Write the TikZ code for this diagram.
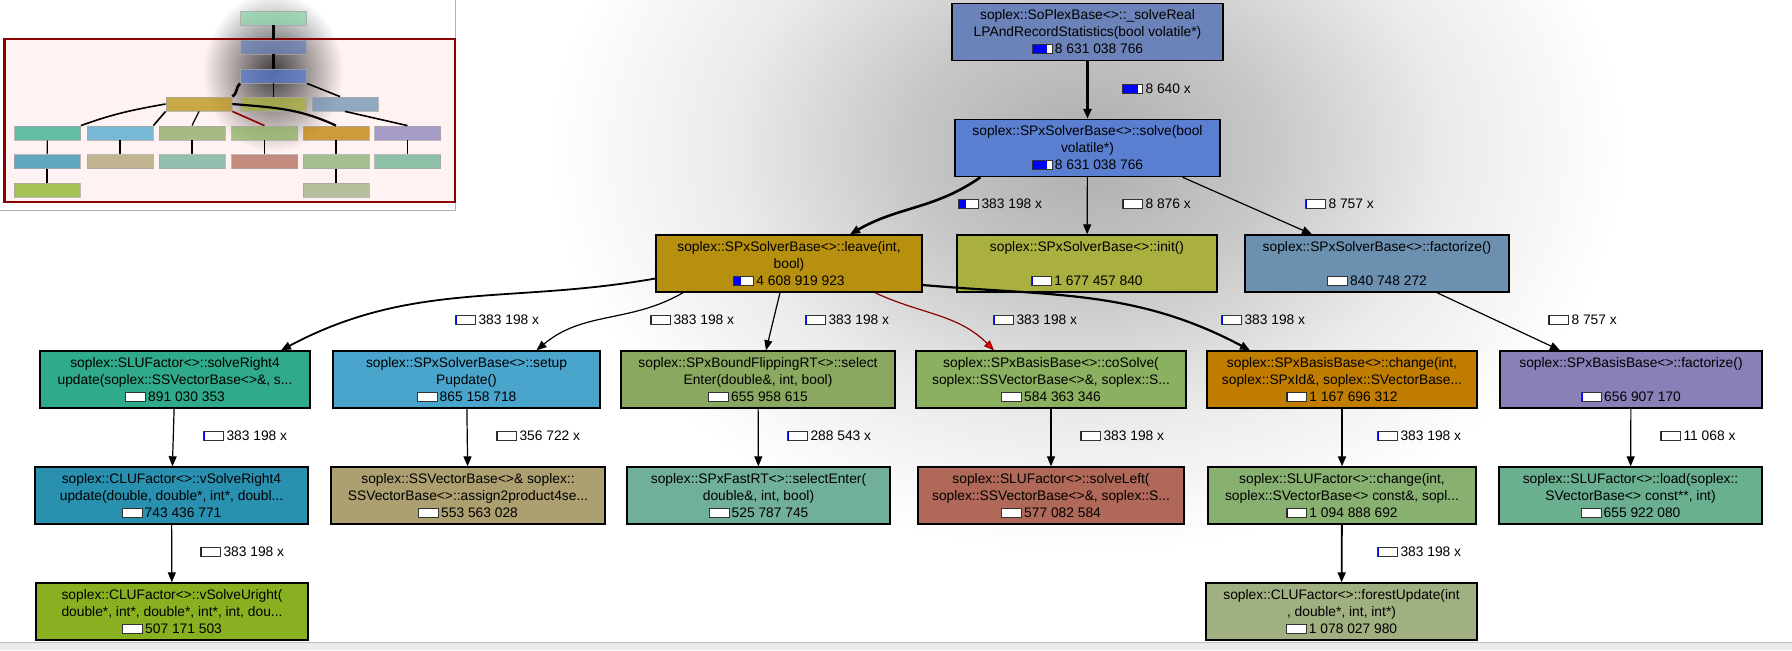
\documentclass[tikz,border=0pt]{standalone}
\usepackage{fontspec}
\setmainfont{Liberation Sans}
\usetikzlibrary{arrows.meta, positioning, calc, fadings}

% small cost bar in front of each number
\newcommand{\costbar}[1]{\tikz[baseline=0pt]{\fill[white] (0,0) rectangle (10pt,4.5pt);
  \fill[blue] (0,0) rectangle (#1*10pt,4.5pt);
  \draw[black!80, line width=0.4pt] (0,0) rectangle (10pt,4.5pt);}\,}

% soft shadow
\pgfdeclareradialshading{glow}{\pgfpoint{0bp}{0bp}}{color(0bp)=(black!32); color(8bp)=(black!22);
  color(16bp)=(black!8); color(24bp)=(white); color(50bp)=(white)}
\tikzfading[name=fuzzy, inner color=transparent!0, outer color=transparent!100]

\definecolor{cTop}{HTML}{6B83B8}
\definecolor{cSolve}{HTML}{5B7FD0}
\definecolor{cLeave}{HTML}{B8900F}
\definecolor{cInit}{HTML}{AAB040}
\definecolor{cFact}{HTML}{6C90B0}
\definecolor{cSR}{HTML}{2FAA8A}
\definecolor{cSetup}{HTML}{4AA5CC}
\definecolor{cBF}{HTML}{8AA860}
\definecolor{cCo}{HTML}{8AB060}
\definecolor{cChg}{HTML}{C07D00}
\definecolor{cBBF}{HTML}{8A80B8}
\definecolor{cVSR}{HTML}{2A90B0}
\definecolor{cSSV}{HTML}{ADA070}
\definecolor{cFast}{HTML}{70B098}
\definecolor{cSL}{HTML}{B06858}
\definecolor{cSLC}{HTML}{88B070}
\definecolor{cLoad}{HTML}{6AB090}
\definecolor{cVSU}{HTML}{88B020}
\definecolor{cFor}{HTML}{A0B080}
\definecolor{cFrame}{HTML}{8B0000}

\begin{document}
\begin{tikzpicture}[x=0.5pt, y=-0.5pt, font=\fontsize{6.9}{8.5}\selectfont,
  fn/.style={draw=black, line width=0.7pt, fill=#1, align=center, inner sep=0pt,
    minimum height=28.5pt},
  w/.style={minimum width=#1*0.5pt},
  call/.style={-{Triangle[length=5pt,width=4pt]}, line width=0.6pt},
  cnt/.style={anchor=west, inner sep=0pt},
  mini/.style={draw=black!35, fill=#1, inner sep=0pt, minimum width=33pt, minimum height=7pt, opacity=0.75}]

\useasboundingbox (0,0) rectangle (1792,650);
\fill[white] (0,0) rectangle (1792,650);
% shadow around the top of the graph
\shade[shading=glow] (1087,150) ellipse (560 and 420);

% Cajas
\node[fn=cTop, w=271] (top) at (1087.5,32) {soplex::SoPlexBase<>::\_solveReal\\LPAndRecordStatistics(bool volatile*)\\\costbar{0.75}8 631 038 766};
\node[fn=cSolve, w=265] (solve) at (1087.5,148) {soplex::SPxSolverBase<>::solve(bool\\volatile*)\\\costbar{0.75}8 631 038 766};
\node[fn=cLeave, w=266] (leave) at (789,263.5) {soplex::SPxSolverBase<>::leave(int,\\bool)\\\costbar{0.35}4 608 919 923};
\node[fn=cInit, w=260] (init) at (1087,263.5) {soplex::SPxSolverBase<>::init()\\~\\\costbar{0.05}1 677 457 840};
\node[fn=cFact, w=264] (fact) at (1377,263.5) {soplex::SPxSolverBase<>::factorize()\\~\\\costbar{0.03}840 748 272};

\node[fn=cSR, w=270] (sr4) at (175,379.5) {soplex::SLUFactor<>::solveRight4\\update(soplex::SSVectorBase<>\&, s...\\\costbar{0.03}891 030 353};
\node[fn=cSetup, w=267] (setup) at (466.5,379.5) {soplex::SPxSolverBase<>::setup\\Pupdate()\\\costbar{0.03}865 158 718};
\node[fn=cBF, w=274] (bf) at (758,379.5) {soplex::SPxBoundFlippingRT<>::select\\Enter(double\&, int, bool)\\\costbar{0.02}655 958 615};
\node[fn=cCo, w=270] (cosolve) at (1051,379.5) {soplex::SPxBasisBase<>::coSolve(\\soplex::SSVectorBase<>\&, soplex::S...\\\costbar{0.02}584 363 346};
\node[fn=cChg, w=270] (change) at (1342,379.5) {soplex::SPxBasisBase<>::change(int,\\soplex::SPxId\&, soplex::SVectorBase...\\\costbar{0.04}1 167 696 312};
\node[fn=cBBF, w=262] (bbfact) at (1631,379.5) {soplex::SPxBasisBase<>::factorize()\\~\\\costbar{0.02}656 907 170};

\node[fn=cVSR, w=273] (vsr4) at (171.5,495.5) {soplex::CLUFactor<>::vSolveRight4\\update(double, double*, int*, doubl...\\\costbar{0.02}743 436 771};
\node[fn=cSSV, w=274] (ssv) at (468,495.5) {soplex::SSVectorBase<>\& soplex::\\SSVectorBase<>::assign2product4se...\\\costbar{0.02}553 563 028};
\node[fn=cFast, w=263] (fast) at (758.5,495.5) {soplex::SPxFastRT<>::selectEnter(\\double\&, int, bool)\\\costbar{0.02}525 787 745};
\node[fn=cSL, w=266] (sleft) at (1051,495.5) {soplex::SLUFactor<>::solveLeft(\\soplex::SSVectorBase<>\&, soplex::S...\\\costbar{0.02}577 082 584};
\node[fn=cSLC, w=268] (slchg) at (1342,495.5) {soplex::SLUFactor<>::change(int,\\soplex::SVectorBase<> const\&, sopl...\\\costbar{0.04}1 094 888 692};
\node[fn=cLoad, w=263] (load) at (1630.5,495.5) {soplex::SLUFactor<>::load(soplex::\\SVectorBase<> const**, int)\\\costbar{0.02}655 922 080};

\node[fn=cVSU, w=272] (vsu) at (172,611.5) {soplex::CLUFactor<>::vSolveUright(\\double*, int*, double*, int*, int, dou...\\\costbar{0.02}507 171 503};
\node[fn=cFor, w=271] (forest) at (1341.5,611.5) {soplex::CLUFactor<>::forestUpdate(int\\, double*, int, int*)\\\costbar{0.04}1 078 027 980};

% Llamadas
\draw[call, line width=1.5pt] (top) -- (solve);
\draw[call, line width=1.3pt] ($(solve.south)+(-107,0)$) to[out=215,in=30] ($(leave.north)+(61,0)$);
\draw[call] (solve) -- (init);
\draw[call] ($(solve.south)+(95,0)$) -- ($(fact.north)+(-65,0)$);
\draw[call, line width=0.9pt] ($(leave.west)+(0,15)$) to[out=190,in=28] ($(sr4.north)+(106,0)$);
\draw[call] ($(leave.south)+(-106,0)$) to[out=210,in=40] ($(setup.north)+(70,0)$);
\draw[call] ($(leave.south)+(-9,0)$) -- ($(bf.north)+(8,0)$);
\draw[call, draw=cFrame, -{Triangle[length=5pt,width=4pt,fill=red]}] ($(leave.south)+(86,0)$) to[out=-25,in=135] ($(cosolve.north)+(-57,0)$);
\draw[call, line width=1.1pt] ($(leave.east)+(0,21.5)$) to[out=-5,in=152] ($(change.north)+(-92,0)$);
\draw[call] ($(fact.south)+(60,0)$) -- ($(bbfact.north)+(-71,0)$);
\draw[call] (sr4) -- (vsr4);
\draw[call] (setup) -- (ssv);
\draw[call] (bf) -- (fast);
\draw[call] (cosolve) -- (sleft);
\draw[call, line width=0.9pt] (change) -- (slchg);
\draw[call, line width=0.9pt] (slchg) -- (forest);
\draw[call] (bbfact) -- (load);
\draw[call] (vsr4) -- (vsu);

% Contadores
\node[cnt] (n1) at (1122,89) {\costbar{0.75}8 640 x};
\node[cnt] (n2) at (958,204) {\costbar{0.35}383 198 x};
\node[cnt] (n3) at (1122,204) {\costbar{0.05}8 876 x};
\node[cnt] (n4) at (1305,204) {\costbar{0.03}8 757 x};
\node[cnt] (n5) at (455,320) {\costbar{0.03}383 198 x};
\node[cnt] (n6) at (650,320) {\costbar{0.03}383 198 x};
\node[cnt] (n7) at (805,320) {\costbar{0.03}383 198 x};
\node[cnt] (n8) at (993,320) {\costbar{0.03}383 198 x};
\node[cnt] (n9) at (1221,320) {\costbar{0.03}383 198 x};
\node[cnt] (n10) at (1548,320) {\costbar{0.03}8 757 x};
\node[cnt] (n11) at (203,436) {\costbar{0.03}383 198 x};
\node[cnt] (n12) at (496,436) {\costbar{0.02}356 722 x};
\node[cnt] (n13) at (787,436) {\costbar{0.02}288 543 x};
\node[cnt] (n14) at (1080,436) {\costbar{0.03}383 198 x};
\node[cnt] (n15) at (1377,436) {\costbar{0.03}383 198 x};
\node[cnt] (n16) at (1660,436) {\costbar{0.02}11 068 x};
\node[cnt] (n17) at (200,552) {\costbar{0.03}383 198 x};
\node[cnt] (n18) at (1377,552) {\costbar{0.03}383 198 x};

% Vista general
\fill[white] (0,0) rectangle (455,210);
\draw[black!30] (455,0) -- (455,210) -- (0,210);
\fill[white!95!red] (4.5,39) rectangle (455,202);
\fill[black, opacity=0.75, path fading=fuzzy] (273,72) ellipse (70 and 80);
\draw[cFrame, line width=1.2pt] (4.5,39) rectangle (455,202);
\node[mini=cTop!60!green!60] (m1) at (273.5,18) {};
\node[mini=cTop] (m2) at (273.5,47) {};
\node[mini=cSolve] (m3) at (273.5,76) {};
\node[mini=cLeave] (m4) at (199,104) {};
\node[mini=cInit] (m5) at (273.5,104) {};
\node[mini=cFact] (m6) at (345,104) {};
\node[mini=cSR] (m7) at (47.5,133) {};
\node[mini=cSetup] (m8) at (120,133) {};
\node[mini=cBF] (m9) at (192,133) {};
\node[mini=cCo] (m10) at (264.5,133) {};
\node[mini=cChg] (m11) at (336,133) {};
\node[mini=cBBF] (m12) at (407.5,133) {};
\node[mini=cVSR] (m13) at (47,161.5) {};
\node[mini=cSSV] (m14) at (120,161.5) {};
\node[mini=cFast] (m15) at (192,161.5) {};
\node[mini=cSL] (m16) at (264.5,161.5) {};
\node[mini=cSLC] (m17) at (336,161.5) {};
\node[mini=cLoad] (m18) at (407.5,161.5) {};
\node[mini=cVSU] (m19) at (47,190) {};
\node[mini=cFor] (m20) at (336,190) {};
\draw[line width=1.5pt] (m1) -- (m2);
\draw[line width=1.5pt] (m2) -- (m3);
\draw[line width=1.3pt] (m3.south west) to[out=220,in=30] (m4.north east);
\draw[line width=0.8pt] (m3) -- (m5);
\draw[line width=0.8pt] (m3.south east) -- ($(m6.north)+(-5,0)$);
\draw[line width=0.8pt] (m4.west) to[out=190,in=20] (m7.north east);
\draw[line width=0.8pt] (m4.south west) -- (m8.north east);
\draw[line width=0.6pt] (m4.south) -- (m9.north);
\draw[cFrame, line width=0.8pt] (m4.south east) -- (m10.north);
\draw[line width=1.1pt] (m4.east) to[out=-5,in=155] (m11.north);
\draw[line width=0.8pt] (m6.south) -- (m12.north);
\foreach \a/\b in {m7/m13, m8/m14, m9/m15, m10/m16, m11/m17, m12/m18, m13/m19, m17/m20}
  \draw[line width=0.6pt] (\a) -- (\b);

% barra inferior
\fill[black!8] (0,642) rectangle (1792,650);
\draw[black!25] (0,642) -- (1792,642);
\end{tikzpicture}
\end{document}
